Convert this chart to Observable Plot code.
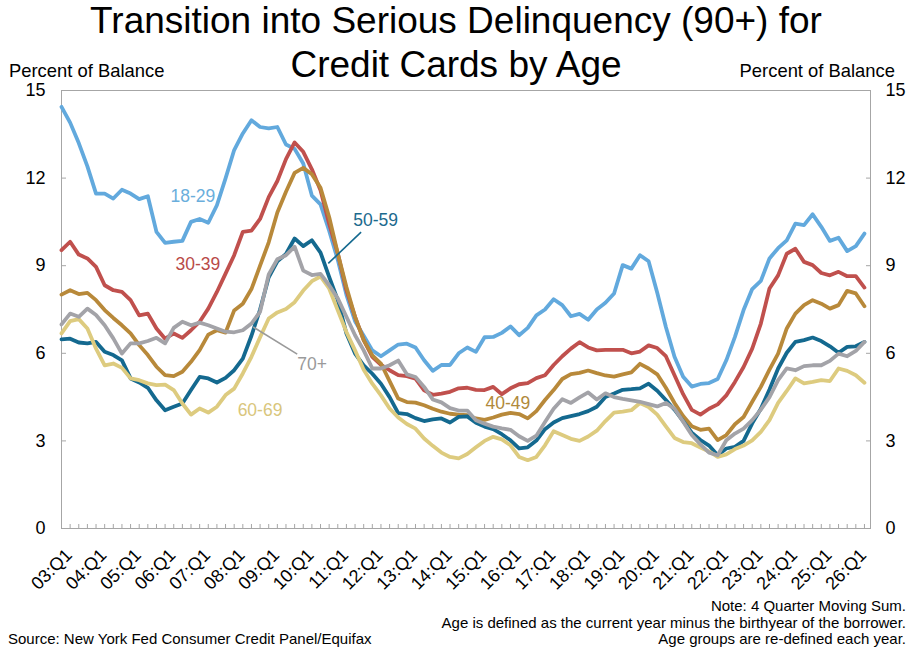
<!DOCTYPE html>
<html>
<head>
<meta charset="utf-8">
<script src="https://cdn.jsdelivr.net/npm/d3@7"></script>
<script src="https://cdn.jsdelivr.net/npm/@observablehq/plot@0.6"></script>
<style>
  html, body { margin: 0; padding: 0; background: #fff; }
  #chart { width: 912px; height: 656px; }
</style>
</head>
<body>
<div id="chart"></div>
<script>
// Tick labels (one per year, at every 4th quarter starting 03:Q1)
const yearLabels = ["03:Q1","04:Q1","05:Q1","06:Q1","07:Q1","08:Q1","09:Q1","10:Q1","11:Q1","12:Q1","13:Q1","14:Q1","15:Q1","16:Q1","17:Q1","18:Q1","19:Q1","20:Q1","21:Q1","22:Q1","23:Q1","24:Q1","25:Q1","26:Q1"];
const yTicks = [0, 3, 6, 9, 12, 15];

// Series values, quarterly from 03:Q1 to 26:Q2 (percent of balance)
const age18_29 = [14.44,13.9,13.2,12.4,11.47,11.47,11.3,11.6,11.47,11.28,11.38,10.16,9.78,9.82,9.85,10.5,10.6,10.47,11.07,11.99,12.96,13.53,13.98,13.75,13.7,13.75,13.15,13.0,12.5,11.4,11.1,10.2,9.2,8.0,7.1,6.6,6.1,5.9,6.1,6.3,6.33,6.2,5.76,5.4,5.6,5.6,6.0,6.2,6.05,6.55,6.56,6.7,6.92,6.62,6.87,7.3,7.5,7.85,7.65,7.27,7.35,7.15,7.5,7.73,8.05,9.02,8.9,9.36,9.15,8.07,6.9,5.88,5.2,4.86,4.95,4.98,5.12,5.76,6.56,7.48,8.2,8.48,9.25,9.6,9.87,10.44,10.39,10.76,10.33,9.85,9.96,9.5,9.67,10.1];
const age30_39 = [9.53,9.82,9.38,9.25,8.96,8.33,8.16,8.1,7.82,7.3,7.36,6.85,6.5,6.68,6.53,6.79,7.08,7.53,8.1,8.73,9.36,10.16,10.2,10.6,11.35,11.9,12.65,13.22,12.9,12.3,11.58,10.44,9.42,8.16,7.25,6.45,5.88,5.6,5.42,5.25,5.22,5.13,4.73,4.58,4.62,4.68,4.8,4.82,4.75,4.74,4.85,4.6,4.8,4.94,4.98,5.15,5.25,5.6,5.9,6.16,6.38,6.2,6.1,6.12,6.12,6.12,6.0,6.06,6.27,6.18,5.9,5.25,4.6,4.06,3.9,4.1,4.25,4.56,5.02,5.53,6.16,7.02,8.22,8.67,9.41,9.58,9.13,9.02,8.75,8.67,8.79,8.64,8.64,8.25];
const age40_49 = [8.01,8.16,8.03,8.07,7.82,7.48,7.21,6.96,6.68,6.28,5.94,5.54,5.25,5.22,5.37,5.71,6.11,6.64,6.79,6.71,7.47,7.7,8.2,9.0,9.8,10.82,11.53,12.18,12.35,12.13,11.67,10.67,9.42,8.27,7.25,6.45,5.93,5.65,5.05,4.45,4.33,4.31,4.22,4.1,4.0,3.93,3.9,3.88,3.77,3.72,3.8,3.9,3.96,3.92,3.77,4.02,4.4,4.74,5.12,5.29,5.33,5.41,5.32,5.24,5.2,5.28,5.35,5.64,5.48,5.28,4.82,4.3,3.85,3.5,3.38,3.42,3.03,3.2,3.57,3.82,4.34,4.85,5.44,5.99,6.85,7.36,7.65,7.82,7.7,7.53,7.65,8.14,8.05,7.61];
const age50_59 = [6.48,6.5,6.37,6.34,6.39,6.05,5.94,5.76,5.14,5.0,4.82,4.39,4.05,4.17,4.28,4.74,5.19,5.14,5.0,5.16,5.42,5.82,6.6,7.5,8.6,9.15,9.4,9.93,9.67,9.87,9.45,8.62,7.82,6.68,5.99,5.59,5.3,4.96,4.5,3.95,3.92,3.78,3.68,3.74,3.77,3.63,3.82,3.84,3.62,3.49,3.4,3.23,3.02,2.74,2.78,3.01,3.4,3.63,3.78,3.85,3.92,4.02,4.17,4.5,4.62,4.75,4.77,4.8,4.96,4.72,4.4,4.07,3.68,3.28,3.03,2.84,2.51,2.74,2.8,3.0,3.6,4.1,4.76,5.48,6.02,6.39,6.45,6.54,6.42,6.24,6.02,6.22,6.24,6.39];
const age60_69 = [6.68,7.1,7.17,6.85,6.16,5.59,5.65,5.5,5.14,5.08,4.97,4.91,4.93,4.74,4.28,3.9,4.11,3.97,4.17,4.57,4.79,5.31,5.88,6.55,7.19,7.4,7.52,7.75,8.15,8.47,8.63,8.22,7.47,6.73,6.1,5.44,4.96,4.56,4.11,3.8,3.58,3.42,3.08,2.83,2.6,2.45,2.4,2.55,2.78,3.0,3.14,3.05,2.85,2.45,2.34,2.45,2.85,3.33,3.2,3.07,3.0,3.15,3.35,3.68,3.97,4.0,4.05,4.3,4.16,3.9,3.5,3.1,2.96,2.92,2.77,2.64,2.45,2.54,2.72,2.84,3.02,3.31,3.71,4.3,4.71,5.14,4.97,5.02,5.08,5.05,5.48,5.4,5.25,4.99];
const age70plus = [6.99,7.36,7.25,7.53,7.31,6.96,6.51,5.99,6.34,6.34,6.42,6.53,6.34,6.87,7.08,6.96,7.05,6.96,6.85,6.74,6.72,6.79,7.02,7.42,8.7,9.22,9.36,9.65,8.83,8.68,8.72,8.33,7.88,7.25,6.62,6.1,5.48,5.48,5.59,5.75,5.28,5.19,4.85,4.42,4.32,4.12,4.04,4.04,3.71,3.59,3.49,3.43,3.38,3.16,3.0,3.18,3.65,4.1,4.43,4.3,4.49,4.66,4.42,4.63,4.5,4.44,4.39,4.34,4.26,4.18,4.3,4.1,3.66,3.2,2.88,2.6,2.51,3.02,3.25,3.42,3.71,4.07,4.5,5.08,5.48,5.42,5.56,5.59,5.59,5.74,5.99,5.9,6.08,6.39];

const seriesNames = ["18-29", "30-39", "40-49", "50-59", "60-69", "70+"];
const seriesColors = ["#62a9dd", "#c0504d", "#b8893a", "#14698f", "#ddcb7f", "#a3a3a8"];
const seriesValues = [age18_29, age30_39, age40_49, age50_59, age60_69, age70plus];

// In-chart series labels (position in data units: quarter index, percent)
const labelNames = ["18-29", "30-39", "50-59", "70+", "60-69", "40-49"];
const labelIdx = [12.62, 13.2, 33.8, 27.3, 20.4, 49.1];
const labelVal = [11.38, 9.03, 10.56, 5.63, 4.03, 4.27];
const labelColors = ["#6aaedc", "#b94a48", "#1c6a8e", "#9a9a9a", "#d9c67c", "#b0893a"];

// Leader lines (data units)
const leaderIdx1 = [34.7, 22.2];
const leaderVal1 = [10.15, 6.9];
const leaderIdx2 = [30.9, 27.3];
const leaderVal2 = [9.08, 5.97];
const leaderColors = ["#14698f", "#9a9a9a"];

const rows = seriesNames.flatMap((name, s) => seriesValues[s].map((v, i) => ({i, v, name})));
const nQuarters = age18_29.length;
const quarterIdx = d3.range(nQuarters);
const yearIdx = yearLabels.map((_, k) => 4 * k);
const labels = labelNames.map((t, k) => ({t, x: labelIdx[k], y: labelVal[k], c: labelColors[k]}));
const leaders = leaderColors.map((c, k) => ({x1: leaderIdx1[k], y1: leaderVal1[k], x2: leaderIdx2[k], y2: leaderVal2[k], c}));

const FONT = "'Liberation Sans', Arial, Helvetica, sans-serif";
const AXIS = "#a6a6a6";

const chart = Plot.plot({
  width: 912,
  height: 656,
  marginLeft: 61,
  marginRight: 42,
  marginTop: 90,
  marginBottom: 128,
  x: {domain: [0, 93.7], axis: null},
  y: {domain: [0, 15], axis: null},
  color: {domain: seriesNames, range: seriesColors},
  style: {fontFamily: FONT, background: "#fff", overflow: "visible"},
  marks: [
    Plot.frame({stroke: AXIS, strokeWidth: 1}),
    Plot.axisY(yTicks, {anchor: "left", tickSize: 5, dx: 5, tickPadding: 16, fontSize: 18, stroke: AXIS, fill: "#000"}),
    Plot.axisY(yTicks, {anchor: "right", tickSize: 5, dx: -5, tickPadding: 15, fontSize: 18, stroke: AXIS, fill: "#000"}),
    Plot.axisX(quarterIdx, {anchor: "bottom", tickSize: 4, dy: -4, tickFormat: () => "", stroke: AXIS}),
    Plot.axisX(yearIdx, {anchor: "bottom", tickSize: 0, tickPadding: 23.5, dx: 7.5, tickRotate: -45, fontSize: 18, fill: "#000", tickFormat: (d) => yearLabels[d / 4]}),
    Plot.line(rows, {x: "i", y: "v", z: "name", stroke: "name", strokeWidth: 3.8, strokeLinejoin: "round", strokeLinecap: "round"}),
    Plot.link(leaders, {x1: "x1", y1: "y1", x2: "x2", y2: "y2", stroke: "c", strokeWidth: 1.6}),
    Plot.text(labels, {x: "x", y: "y", text: "t", fill: "c", textAnchor: "start", fontSize: 17.5})
  ]
});

document.getElementById("chart").appendChild(chart);

// Titles and notes
const svg = d3.select(chart);
function addText(str, x, y, size, anchor, color) {
  svg.append("text")
    .attr("x", x).attr("y", y)
    .attr("text-anchor", anchor)
    .attr("font-family", FONT)
    .attr("font-size", size)
    .attr("fill", color || "#000")
    .text(str);
}
addText("Transition into Serious Delinquency (90+) for", 456, 33, 37, "middle");
addText("Credit Cards by Age", 456, 77, 37, "middle");
addText("Percent of Balance", 9, 77, 18.4, "start");
addText("Percent of Balance", 895, 77, 18.4, "end");
addText("Note: 4 Quarter Moving Sum.", 906, 610.5, 15, "end");
addText("Age is defined as the current year minus the birthyear of the borrower.", 906, 627.5, 15, "end");
addText("Age groups are re-defined each year.", 906, 644, 15, "end");
addText("Source: New York Fed Consumer Credit Panel/Equifax", 8, 644, 15, "start");
</script>
</body>
</html>
